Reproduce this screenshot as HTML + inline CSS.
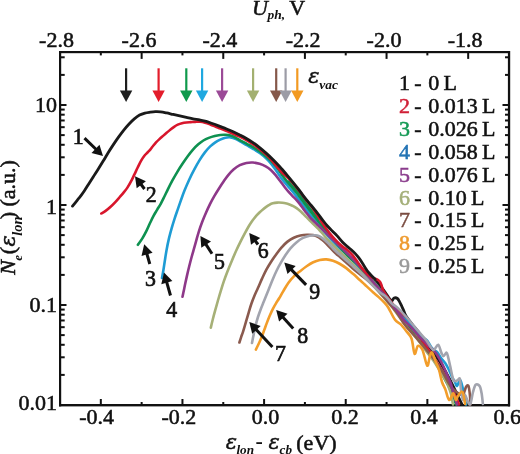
<!DOCTYPE html>
<html><head><meta charset="utf-8"><style>html,body{margin:0;padding:0;background:#fff;}svg{display:block;}</style></head>
<body><svg width="520" height="454" viewBox="0 0 520 454">
<rect width="520" height="454" fill="#fff"/>
<g fill="#111">
<rect x="59" y="51" width="451" height="2.2"/>
<rect x="59" y="404" width="451" height="2.4"/>
<rect x="59" y="51" width="2.2" height="355.4"/>
<rect x="507.9" y="51" width="2.3" height="355.4"/>
<rect x="99.82" y="399" width="2" height="5"/>
<rect x="99.82" y="53" width="2" height="2.4"/>
<rect x="140.64" y="402" width="2" height="2"/>
<rect x="140.64" y="53" width="2" height="5.9"/>
<rect x="181.45" y="399" width="2" height="5"/>
<rect x="181.45" y="53" width="2" height="2.4"/>
<rect x="222.27" y="402" width="2" height="2"/>
<rect x="222.27" y="53" width="2" height="5.9"/>
<rect x="263.09" y="399" width="2" height="5"/>
<rect x="263.09" y="53" width="2" height="2.4"/>
<rect x="303.91" y="402" width="2" height="2"/>
<rect x="303.91" y="53" width="2" height="5.9"/>
<rect x="344.73" y="399" width="2" height="5"/>
<rect x="344.73" y="53" width="2" height="2.4"/>
<rect x="385.55" y="402" width="2" height="2"/>
<rect x="385.55" y="53" width="2" height="5.9"/>
<rect x="426.36" y="399" width="2" height="5"/>
<rect x="426.36" y="53" width="2" height="2.4"/>
<rect x="467.18" y="402" width="2" height="2"/>
<rect x="467.18" y="53" width="2" height="5.9"/>
<rect x="61" y="373.90" width="3.7" height="2"/>
<rect x="505" y="373.90" width="3" height="2"/>
<rect x="61" y="356.29" width="3.7" height="2"/>
<rect x="505" y="356.29" width="3" height="2"/>
<rect x="61" y="343.79" width="3.7" height="2"/>
<rect x="505" y="343.79" width="3" height="2"/>
<rect x="61" y="334.10" width="3.7" height="2"/>
<rect x="505" y="334.10" width="3" height="2"/>
<rect x="61" y="326.18" width="3.7" height="2"/>
<rect x="505" y="326.18" width="3" height="2"/>
<rect x="61" y="319.49" width="3.7" height="2"/>
<rect x="505" y="319.49" width="3" height="2"/>
<rect x="61" y="313.69" width="3.7" height="2"/>
<rect x="505" y="313.69" width="3" height="2"/>
<rect x="61" y="308.58" width="3.7" height="2"/>
<rect x="505" y="308.58" width="3" height="2"/>
<rect x="61" y="304.00" width="5.5" height="2"/>
<rect x="502.5" y="304.00" width="5.5" height="2"/>
<rect x="61" y="273.90" width="3.7" height="2"/>
<rect x="505" y="273.90" width="3" height="2"/>
<rect x="61" y="256.29" width="3.7" height="2"/>
<rect x="505" y="256.29" width="3" height="2"/>
<rect x="61" y="243.79" width="3.7" height="2"/>
<rect x="505" y="243.79" width="3" height="2"/>
<rect x="61" y="234.10" width="3.7" height="2"/>
<rect x="505" y="234.10" width="3" height="2"/>
<rect x="61" y="226.18" width="3.7" height="2"/>
<rect x="505" y="226.18" width="3" height="2"/>
<rect x="61" y="219.49" width="3.7" height="2"/>
<rect x="505" y="219.49" width="3" height="2"/>
<rect x="61" y="213.69" width="3.7" height="2"/>
<rect x="505" y="213.69" width="3" height="2"/>
<rect x="61" y="208.58" width="3.7" height="2"/>
<rect x="505" y="208.58" width="3" height="2"/>
<rect x="61" y="204.00" width="5.5" height="2"/>
<rect x="502.5" y="204.00" width="5.5" height="2"/>
<rect x="61" y="173.90" width="3.7" height="2"/>
<rect x="505" y="173.90" width="3" height="2"/>
<rect x="61" y="156.29" width="3.7" height="2"/>
<rect x="505" y="156.29" width="3" height="2"/>
<rect x="61" y="143.79" width="3.7" height="2"/>
<rect x="505" y="143.79" width="3" height="2"/>
<rect x="61" y="134.10" width="3.7" height="2"/>
<rect x="505" y="134.10" width="3" height="2"/>
<rect x="61" y="126.18" width="3.7" height="2"/>
<rect x="505" y="126.18" width="3" height="2"/>
<rect x="61" y="119.49" width="3.7" height="2"/>
<rect x="505" y="119.49" width="3" height="2"/>
<rect x="61" y="113.69" width="3.7" height="2"/>
<rect x="505" y="113.69" width="3" height="2"/>
<rect x="61" y="108.58" width="3.7" height="2"/>
<rect x="505" y="108.58" width="3" height="2"/>
<rect x="61" y="104.00" width="5.5" height="2"/>
<rect x="502.5" y="104.00" width="5.5" height="2"/>
<rect x="61" y="73.90" width="3.7" height="2"/>
<rect x="505" y="73.90" width="3" height="2"/>
<rect x="61" y="56.29" width="3.7" height="2"/>
<rect x="505" y="56.29" width="3" height="2"/>
</g>
<g font-family="Liberation Serif, serif" stroke-width="0.55" stroke="#111" font-size="22" fill="#111">
<text x="56.5" y="47.3" text-anchor="middle">-2.8</text>
<text x="139.0" y="47.3" text-anchor="middle">-2.6</text>
<text x="219.9" y="47.3" text-anchor="middle">-2.4</text>
<text x="303.2" y="47.3" text-anchor="middle">-2.2</text>
<text x="384.0" y="47.3" text-anchor="middle">-2.0</text>
<text x="465.2" y="47.3" text-anchor="middle">-1.8</text>
<text x="96.6" y="424.3" text-anchor="middle">-0.4</text>
<text x="178.8" y="424.3" text-anchor="middle">-0.2</text>
<text x="265.6" y="424.3" text-anchor="middle">0.0</text>
<text x="345.0" y="424.3" text-anchor="middle">0.2</text>
<text x="424.1" y="424.3" text-anchor="middle">0.4</text>
<text x="507.3" y="424.3" text-anchor="middle">0.6</text>
<text x="57" y="111.5" text-anchor="end">10</text>
<text x="57" y="214.2" text-anchor="end">1</text>
<text x="57" y="311.8" text-anchor="end">0.1</text>
<text x="57" y="410.4" text-anchor="end">0.01</text>
</g>
<text font-family="Liberation Serif, serif" stroke-width="0.55" stroke="#111" font-size="22" fill="#111" x="252" y="14.6" font-style="italic">U</text>
<text font-family="Liberation Serif, serif" font-style="italic" font-weight="bold" font-size="13.5" fill="#111" x="267.6" y="19.4">ph,</text>
<text font-family="Liberation Serif, serif" stroke-width="0.55" stroke="#111" font-size="22" fill="#111" x="289.3" y="14.6">V</text>
<text font-family="DejaVu Serif, serif" font-style="italic" font-size="21" fill="#111" stroke="#111" stroke-width="0.45" x="225.8" y="449.3">ε</text>
<text font-family="Liberation Serif, serif" font-style="italic" font-weight="bold" font-size="13.2" fill="#111" x="236.4" y="454.2">lon</text>
<text font-family="Liberation Serif, serif" font-weight="bold" font-size="22" fill="#111" x="255.6" y="447.9">-</text>
<text font-family="DejaVu Serif, serif" font-style="italic" font-size="21" fill="#111" stroke="#111" stroke-width="0.45" x="268.6" y="449.3">ε</text>
<text font-family="Liberation Serif, serif" font-style="italic" font-weight="bold" font-size="13.2" fill="#111" x="279.6" y="454.2">cb</text>
<text font-family="Liberation Serif, serif" stroke-width="0.55" stroke="#111" font-size="22" fill="#111" x="296.3" y="449.5">(eV)</text>
<g transform="translate(15.2,274.8) rotate(-90)">
<text font-family="Liberation Serif, serif" stroke-width="0.55" stroke="#111" font-size="22" fill="#111" x="0" y="0" font-style="italic">N</text>
<text font-family="Liberation Serif, serif" font-style="italic" font-weight="bold" font-size="13" fill="#111" x="14" y="6.6">e</text>
<text font-family="Liberation Serif, serif" stroke-width="0.55" stroke="#111" font-size="22" fill="#111" x="20.5" y="0">(</text>
<text font-family="DejaVu Serif, serif" font-style="italic" font-size="21" fill="#111" stroke="#111" stroke-width="0.45" x="28.3" y="0">ε</text>
<text font-family="Liberation Serif, serif" font-style="italic" font-weight="bold" font-size="14.5" fill="#111" x="39" y="6.8">lon</text>
<text font-family="Liberation Serif, serif" stroke-width="0.55" stroke="#111" font-size="22" fill="#111" x="55.5" y="0">) (a.u.)</text>
</g>
<text font-family="Liberation Serif, serif" stroke-width="0.55" stroke="#111" font-size="22" fill="#111" x="399" y="90.0" word-spacing="-1.2"><tspan fill="#111" stroke="#111">1</tspan> -<tspan dx="2.2"> 0 L</tspan></text>
<text font-family="Liberation Serif, serif" stroke-width="0.55" stroke="#111" font-size="22" fill="#111" x="399" y="112.9" word-spacing="-1.2"><tspan fill="#d01f36" stroke="#d01f36">2</tspan> -<tspan dx="2.2"> 0.013 L</tspan></text>
<text font-family="Liberation Serif, serif" stroke-width="0.55" stroke="#111" font-size="22" fill="#111" x="399" y="135.8" word-spacing="-1.2"><tspan fill="#159a55" stroke="#159a55">3</tspan> -<tspan dx="2.2"> 0.026 L</tspan></text>
<text font-family="Liberation Serif, serif" stroke-width="0.55" stroke="#111" font-size="22" fill="#111" x="399" y="158.7" word-spacing="-1.2"><tspan fill="#2474b5" stroke="#2474b5">4</tspan> -<tspan dx="2.2"> 0.058 L</tspan></text>
<text font-family="Liberation Serif, serif" stroke-width="0.55" stroke="#111" font-size="22" fill="#111" x="399" y="181.6" word-spacing="-1.2"><tspan fill="#8a3c8c" stroke="#8a3c8c">5</tspan> -<tspan dx="2.2"> 0.076 L</tspan></text>
<text font-family="Liberation Serif, serif" stroke-width="0.55" stroke="#111" font-size="22" fill="#111" x="399" y="204.5" word-spacing="-1.2"><tspan fill="#a5b07a" stroke="#a5b07a">6</tspan> -<tspan dx="2.2"> 0.10 L</tspan></text>
<text font-family="Liberation Serif, serif" stroke-width="0.55" stroke="#111" font-size="22" fill="#111" x="399" y="227.4" word-spacing="-1.2"><tspan fill="#7a4c40" stroke="#7a4c40">7</tspan> -<tspan dx="2.2"> 0.15 L</tspan></text>
<text font-family="Liberation Serif, serif" stroke-width="0.55" stroke="#111" font-size="22" fill="#111" x="399" y="250.3" word-spacing="-1.2"><tspan fill="#ee9a2e" stroke="#ee9a2e">8</tspan> -<tspan dx="2.2"> 0.25 L</tspan></text>
<text font-family="Liberation Serif, serif" stroke-width="0.55" stroke="#111" font-size="22" fill="#111" x="399" y="273.2" word-spacing="-1.2"><tspan fill="#999999" stroke="#999999">9</tspan> -<tspan dx="2.2"> 0.25 L</tspan></text>
<g fill="#1e1e1e"><rect x="125.0" y="68.3" width="2.2" height="23"/><path d="M119.9 90.5 L132.3 90.5 L126.1 102 Z"/></g>
<g fill="#e31d2b"><rect x="157.5" y="68.3" width="2.2" height="23"/><path d="M152.4 90.5 L164.8 90.5 L158.6 102 Z"/></g>
<g fill="#0f9a4c"><rect x="185.2" y="68.3" width="2.2" height="23"/><path d="M180.1 90.5 L192.5 90.5 L186.3 102 Z"/></g>
<g fill="#1fa8e0"><rect x="201.0" y="68.3" width="2.2" height="23"/><path d="M195.9 90.5 L208.3 90.5 L202.1 102 Z"/></g>
<g fill="#9b4a97"><rect x="221.0" y="68.3" width="2.2" height="23"/><path d="M215.9 90.5 L228.3 90.5 L222.1 102 Z"/></g>
<g fill="#a3b070"><rect x="252.0" y="68.3" width="2.2" height="23"/><path d="M246.9 90.5 L259.3 90.5 L253.1 102 Z"/></g>
<g fill="#85584a"><rect x="275.1" y="68.3" width="2.2" height="23"/><path d="M270.0 90.5 L282.4 90.5 L276.2 102 Z"/></g>
<g fill="#9c9ca6"><rect x="284.5" y="68.3" width="2.2" height="23"/><path d="M279.4 90.5 L291.8 90.5 L285.6 102 Z"/></g>
<g fill="#f29a22"><rect x="296.2" y="68.3" width="2.2" height="23"/><path d="M291.1 90.5 L303.5 90.5 L297.3 102 Z"/></g>
<text font-family="DejaVu Serif, serif" font-style="italic" font-size="21" fill="#111" stroke="#111" stroke-width="0.45" x="308.2" y="83.3">ε</text>
<text font-family="Liberation Serif, serif" font-style="italic" font-weight="bold" font-size="13.5" fill="#111" x="319.3" y="88.8">vac</text>
<path d="M375.10 279.30 C375.92 280.30 378.38 283.21 380.02 285.32 C381.67 287.44 383.34 289.64 385.00 292.00 C386.66 294.36 388.83 298.05 390.00 299.50 C391.17 300.95 391.32 300.95 392.00 300.70 C392.68 300.45 393.20 298.37 394.10 298.00 C395.00 297.63 396.48 297.85 397.40 298.50 C398.32 299.15 398.87 300.60 399.60 301.90 C400.33 303.20 401.15 304.95 401.80 306.30 C402.45 307.65 402.80 308.38 403.50 310.00 C404.20 311.62 404.58 313.67 406.00 316.00 C407.42 318.33 409.67 321.00 412.00 324.00 C414.33 327.00 417.33 330.50 420.00 334.00 C422.67 337.50 425.33 341.33 428.00 345.00 C430.67 348.67 433.50 352.33 436.00 356.00 C438.50 359.67 440.83 363.33 443.00 367.00 C445.17 370.67 447.17 374.50 449.00 378.00 C450.83 381.50 452.50 385.00 454.00 388.00 C455.50 391.00 456.67 393.25 458.00 396.00 C459.33 398.75 461.33 403.08 462.00 404.50" fill="none" stroke="#1a1a1a" stroke-width="2.8" stroke-linejoin="round" stroke-linecap="round"/>
<path d="M382.60 289.20 C383.17 290.17 384.43 292.70 386.00 295.00 C387.57 297.30 389.83 300.33 392.00 303.00 C394.17 305.67 396.67 308.17 399.00 311.00 C401.33 313.83 403.50 316.83 406.00 320.00 C408.50 323.17 411.33 326.50 414.00 330.00 C416.67 333.50 419.33 337.33 422.00 341.00 C424.67 344.67 427.33 348.17 430.00 352.00 C432.67 355.83 435.50 360.00 438.00 364.00 C440.50 368.00 442.83 372.17 445.00 376.00 C447.17 379.83 449.17 383.50 451.00 387.00 C452.83 390.50 454.67 394.08 456.00 397.00 C457.33 399.92 458.50 403.25 459.00 404.50" fill="none" stroke="#d8162c" stroke-width="2.6" stroke-linejoin="round" stroke-linecap="round"/>
<path d="M162.00 278.00 C162.24 276.67 162.96 272.83 163.43 270.00 C163.89 267.17 164.28 264.35 164.80 261.00 C165.33 257.65 165.88 253.67 166.57 249.90 C167.27 246.13 168.13 241.97 168.97 238.38 C169.82 234.78 170.71 231.54 171.62 228.33 C172.54 225.11 173.45 222.16 174.45 219.07 C175.45 215.99 176.54 212.90 177.60 209.83 C178.66 206.75 179.67 203.80 180.80 200.62 C181.93 197.45 183.02 194.25 184.40 190.80 C185.78 187.35 187.42 183.52 189.07 179.95 C190.73 176.38 192.57 172.70 194.33 169.40 C196.08 166.10 197.84 162.99 199.60 160.15 C201.36 157.31 203.13 154.66 204.90 152.38 C206.67 150.09 208.47 148.10 210.20 146.43 C211.93 144.75 213.63 143.49 215.30 142.35 C216.97 141.21 218.53 140.35 220.20 139.57 C221.87 138.80 223.56 138.10 225.30 137.73 C227.04 137.35 228.85 137.15 230.62 137.35 C232.40 137.55 234.17 138.20 235.93 138.95 C237.68 139.70 239.35 140.83 241.15 141.88 C242.95 142.92 244.75 144.05 246.72 145.20 C248.70 146.35 250.84 147.46 253.00 148.78 C255.16 150.09 257.52 151.48 259.70 153.07 C261.88 154.67 264.12 156.52 266.08 158.35 C268.03 160.18 269.81 162.10 271.45 164.07 C273.09 166.05 274.44 168.06 275.94 170.20 C277.45 172.35 278.84 174.69 280.48 176.93 C282.12 179.18 284.04 181.57 285.79 183.69 C287.54 185.80 289.44 187.84 290.97 189.63 C292.50 191.43 293.67 192.81 294.97 194.47 C296.26 196.12 297.36 197.68 298.75 199.57 C300.15 201.46 301.86 203.80 303.36 205.81 C304.87 207.81 306.44 209.82 307.80 211.59 C309.15 213.37 309.94 214.48 311.48 216.43 C313.03 218.38 314.71 220.50 317.08 223.31 C319.45 226.12 322.90 230.13 325.68 233.29 C328.47 236.45 331.36 239.67 333.80 242.25 C336.24 244.83 338.18 246.67 340.32 248.75 C342.47 250.83 344.63 252.79 346.68 254.75 C348.72 256.71 350.68 258.56 352.60 260.50 C354.52 262.44 356.28 264.29 358.18 266.38 C360.07 268.46 362.03 270.73 364.00 273.00 C365.97 275.27 368.00 277.67 370.00 280.00 C372.00 282.33 373.83 284.50 376.00 287.00 C378.17 289.50 380.33 292.00 383.00 295.00 C385.67 298.00 389.17 301.67 392.00 305.00 C394.83 308.33 397.33 312.17 400.00 315.00 C402.67 317.83 405.33 319.33 408.00 322.00 C410.67 324.67 413.83 328.50 416.00 331.00 C418.17 333.50 419.17 335.45 421.00 337.00 C422.83 338.55 425.17 338.43 427.00 340.30 C428.83 342.17 430.33 346.25 432.00 348.20 C433.67 350.15 435.50 350.37 437.00 352.00 C438.50 353.63 439.62 356.13 441.00 358.00 C442.38 359.87 443.97 361.20 445.30 363.20 C446.63 365.20 447.88 367.70 449.00 370.00 C450.12 372.30 451.00 375.00 452.00 377.00 C453.00 379.00 454.17 380.50 455.00 382.00 C455.83 383.50 456.17 386.33 457.00 386.00 C457.83 385.67 459.17 380.17 460.00 380.00 C460.83 379.83 461.33 382.67 462.00 385.00 C462.67 387.33 463.33 390.75 464.00 394.00 C464.67 397.25 465.67 402.75 466.00 404.50" fill="none" stroke="#1e9cd4" stroke-width="2.6" stroke-linejoin="round" stroke-linecap="round"/>
<path d="M137.90 244.80 C138.64 243.73 140.95 240.68 142.35 238.40 C143.75 236.12 145.08 233.62 146.32 231.15 C147.57 228.67 148.64 226.03 149.80 223.55 C150.96 221.07 152.06 218.56 153.28 216.27 C154.49 213.99 155.81 211.95 157.07 209.83 C158.34 207.70 159.65 205.73 160.85 203.55 C162.05 201.38 163.13 199.13 164.30 196.78 C165.47 194.42 166.54 192.04 167.85 189.40 C169.16 186.76 170.59 183.82 172.15 180.93 C173.71 178.03 175.48 174.90 177.20 172.05 C178.92 169.20 180.72 166.44 182.48 163.80 C184.23 161.16 185.97 158.57 187.72 156.20 C189.48 153.83 191.24 151.56 193.00 149.57 C194.76 147.59 196.57 145.81 198.30 144.30 C200.03 142.79 201.63 141.57 203.38 140.50 C205.12 139.43 206.88 138.61 208.78 137.85 C210.67 137.09 212.85 136.42 214.75 135.95 C216.65 135.47 218.44 135.19 220.20 135.00 C221.96 134.81 223.57 134.71 225.30 134.80 C227.03 134.89 228.84 135.05 230.60 135.55 C232.36 136.05 234.12 136.93 235.88 137.80 C237.63 138.68 239.32 139.80 241.12 140.80 C242.93 141.80 244.75 142.73 246.72 143.78 C248.70 144.82 250.85 145.84 253.00 147.10 C255.15 148.36 257.42 149.74 259.65 151.35 C261.88 152.96 264.15 154.79 266.40 156.75 C268.65 158.71 271.12 160.98 273.15 163.12 C275.18 165.27 277.01 167.49 278.60 169.60 C280.19 171.71 281.19 173.70 282.68 175.80 C284.16 177.90 285.85 180.12 287.52 182.18 C289.20 184.23 291.18 186.34 292.73 188.15 C294.27 189.96 295.46 191.38 296.77 193.05 C298.09 194.73 299.20 196.30 300.60 198.20 C302.00 200.10 303.70 202.42 305.20 204.42 C306.70 206.42 308.27 208.43 309.62 210.20 C310.98 211.97 311.90 213.23 313.30 215.02 C314.70 216.82 316.07 218.57 318.02 220.97 C319.97 223.38 322.50 226.42 325.00 229.43 C327.50 232.43 330.37 235.87 333.00 239.00 C335.63 242.13 338.36 245.46 340.77 248.22 C343.19 250.99 345.49 253.58 347.48 255.57 C349.46 257.57 351.09 258.78 352.70 260.20 C354.31 261.62 355.67 262.65 357.12 264.07 C358.58 265.50 359.98 267.09 361.43 268.73 C362.87 270.36 364.36 272.22 365.80 273.88 C367.24 275.53 368.68 277.20 370.07 278.68 C371.47 280.15 372.83 281.34 374.17 282.75 C375.52 284.16 376.65 285.36 378.12 287.15 C379.60 288.94 381.05 291.02 383.02 293.50 C385.00 295.98 386.90 297.92 390.00 302.00 C393.10 306.08 398.38 313.67 401.60 318.00 C404.82 322.33 406.90 324.83 409.30 328.00 C411.70 331.17 413.72 334.00 416.00 337.00 C418.28 340.00 420.67 343.00 423.00 346.00 C425.33 349.00 427.83 352.17 430.00 355.00 C432.17 357.83 434.00 359.83 436.00 363.00 C438.00 366.17 440.00 370.33 442.00 374.00 C444.00 377.67 446.17 381.50 448.00 385.00 C449.83 388.50 451.67 391.75 453.00 395.00 C454.33 398.25 455.50 402.92 456.00 404.50" fill="none" stroke="#0e9150" stroke-width="2.6" stroke-linejoin="round" stroke-linecap="round"/>
<path d="M288.60 181.60 C289.44 182.56 292.12 185.59 293.64 187.38 C295.16 189.16 296.40 190.63 297.72 192.31 C299.04 193.99 300.16 195.58 301.56 197.48 C302.97 199.38 304.66 201.70 306.16 203.70 C307.66 205.70 309.23 207.71 310.58 209.47 C311.93 211.24 313.02 212.71 314.25 214.29 C315.47 215.87 317.31 218.16 317.92 218.93" fill="none" stroke="#0e9150" stroke-width="2.6" stroke-linejoin="round" stroke-linecap="round"/>
<path d="M210.80 327.70 C211.12 326.33 212.02 322.37 212.75 319.48 C213.48 316.58 214.33 313.43 215.18 310.35 C216.02 307.27 216.91 304.14 217.82 300.98 C218.74 297.81 219.65 294.63 220.65 291.38 C221.65 288.12 222.65 284.81 223.80 281.45 C224.95 278.09 226.20 274.69 227.55 271.23 C228.90 267.76 230.44 264.05 231.88 260.65 C233.31 257.25 234.73 253.95 236.15 250.82 C237.57 247.70 238.96 244.81 240.40 241.90 C241.84 238.99 243.43 235.94 244.80 233.38 C246.17 230.81 247.51 228.41 248.62 226.52 C249.74 224.64 250.57 223.38 251.47 222.05 C252.38 220.72 253.18 219.66 254.07 218.53 C254.97 217.39 255.88 216.27 256.83 215.23 C257.77 214.18 258.71 213.22 259.73 212.25 C260.74 211.28 261.82 210.32 262.90 209.43 C263.98 208.53 265.12 207.65 266.20 206.88 C267.27 206.10 268.26 205.39 269.35 204.80 C270.44 204.21 271.42 203.71 272.73 203.35 C274.03 202.99 275.59 202.72 277.18 202.62 C278.76 202.53 280.68 202.59 282.25 202.75 C283.82 202.91 285.32 203.25 286.62 203.58 C287.93 203.90 288.96 204.26 290.07 204.67 C291.19 205.09 292.21 205.51 293.30 206.07 C294.39 206.64 295.50 207.30 296.60 208.08 C297.70 208.85 298.80 209.78 299.90 210.75 C301.00 211.72 302.10 212.82 303.20 213.90 C304.30 214.97 305.40 216.10 306.50 217.20 C307.60 218.30 308.70 219.40 309.80 220.50 C310.90 221.60 312.03 222.73 313.10 223.80 C314.18 224.87 315.24 225.93 316.25 226.93 C317.26 227.93 318.19 228.80 319.15 229.80 C320.11 230.80 321.05 231.80 322.02 232.92 C323.00 234.05 323.95 235.32 325.02 236.57 C326.10 237.82 327.17 239.06 328.48 240.43 C329.78 241.79 331.22 243.10 332.88 244.75 C334.53 246.40 336.38 248.28 338.43 250.32 C340.48 252.37 342.81 254.72 345.18 257.00 C347.54 259.28 350.10 261.60 352.60 264.00 C355.10 266.40 357.61 268.79 360.18 271.38 C362.74 273.96 365.40 276.71 368.00 279.50 C370.60 282.29 373.17 285.17 375.75 288.12 C378.33 291.08 380.79 294.10 383.50 297.25 C386.21 300.40 388.98 303.21 392.00 307.00 C395.02 310.79 398.72 316.17 401.60 320.00 C404.48 323.83 406.57 326.67 409.30 330.00 C412.03 333.33 415.22 336.50 418.00 340.00 C420.78 343.50 423.50 347.67 426.00 351.00 C428.50 354.33 430.67 356.67 433.00 360.00 C435.33 363.33 437.83 367.50 440.00 371.00 C442.17 374.50 444.50 378.17 446.00 381.00 C447.50 383.83 448.17 385.83 449.00 388.00 C449.83 390.17 450.33 391.25 451.00 394.00 C451.67 396.75 452.67 402.75 453.00 404.50" fill="none" stroke="#a6b077" stroke-width="2.6" stroke-linejoin="round" stroke-linecap="round"/>
<path d="M239.40 342.50 C239.69 341.60 240.55 338.91 241.15 337.12 C241.75 335.34 242.40 333.64 243.00 331.80 C243.60 329.96 244.14 328.10 244.72 326.10 C245.31 324.10 245.85 322.10 246.53 319.80 C247.20 317.50 247.94 314.94 248.75 312.27 C249.56 309.61 250.44 306.51 251.38 303.80 C252.31 301.09 253.26 298.63 254.35 296.00 C255.44 293.37 256.64 290.92 257.92 288.02 C259.21 285.13 260.62 281.75 262.05 278.65 C263.48 275.55 264.96 272.27 266.50 269.40 C268.04 266.53 269.67 263.94 271.27 261.45 C272.88 258.96 274.47 256.75 276.12 254.48 C277.78 252.20 279.35 249.92 281.20 247.82 C283.05 245.72 285.10 243.55 287.20 241.88 C289.30 240.20 291.60 238.82 293.80 237.77 C296.00 236.72 298.20 236.08 300.40 235.58 C302.60 235.07 304.89 234.80 307.00 234.73 C309.11 234.65 311.23 234.75 313.05 235.10 C314.87 235.45 316.39 236.01 317.90 236.80 C319.41 237.59 320.68 238.67 322.10 239.85 C323.53 241.03 324.97 242.44 326.45 243.90 C327.93 245.36 329.48 247.04 331.00 248.60 C332.52 250.16 334.06 251.81 335.60 253.25 C337.14 254.69 338.57 255.80 340.25 257.25 C341.93 258.70 343.62 260.13 345.68 261.95 C347.73 263.77 350.12 266.07 352.55 268.15 C354.98 270.22 357.68 272.36 360.23 274.40 C362.77 276.44 365.34 278.26 367.80 280.40 C370.26 282.54 372.68 284.86 375.00 287.25 C377.32 289.64 379.58 292.29 381.75 294.75 C383.92 297.21 385.46 298.96 388.00 302.00 C390.54 305.04 394.17 309.17 397.00 313.00 C399.83 316.83 402.03 321.17 405.00 325.00 C407.97 328.83 411.63 332.33 414.80 336.00 C417.97 339.67 420.97 343.33 424.00 347.00 C427.03 350.67 429.90 353.83 433.00 358.00 C436.10 362.17 440.10 368.00 442.60 372.00 C445.10 376.00 446.43 379.33 448.00 382.00 C449.57 384.67 450.33 386.17 452.00 388.00 C453.67 389.83 456.17 391.83 458.00 393.00 C459.83 394.17 461.67 396.00 463.00 395.00 C464.33 394.00 465.08 388.50 466.00 387.00 C466.92 385.50 467.83 384.50 468.50 386.00 C469.17 387.50 469.67 392.92 470.00 396.00 C470.33 399.08 470.42 403.08 470.50 404.50" fill="none" stroke="#8a5a4e" stroke-width="2.6" stroke-linejoin="round" stroke-linecap="round"/>
<path d="M182.50 296.80 C182.73 295.70 183.41 292.45 183.88 290.20 C184.34 287.95 184.77 285.75 185.30 283.28 C185.83 280.80 186.42 278.10 187.05 275.35 C187.68 272.60 188.40 269.56 189.10 266.75 C189.80 263.94 190.49 261.22 191.22 258.50 C191.96 255.78 192.71 253.25 193.50 250.43 C194.29 247.60 195.10 244.62 195.97 241.53 C196.85 238.43 197.73 235.03 198.75 231.82 C199.77 228.62 200.89 225.41 202.07 222.28 C203.26 219.14 204.56 216.05 205.88 213.02 C207.19 210.00 208.55 206.98 209.97 204.12 C211.40 201.27 212.90 198.53 214.43 195.88 C215.95 193.22 217.60 190.61 219.15 188.18 C220.70 185.74 222.23 183.43 223.75 181.25 C225.27 179.07 226.62 177.06 228.25 175.10 C229.88 173.14 231.60 171.15 233.52 169.50 C235.45 167.85 237.65 166.27 239.80 165.18 C241.95 164.08 244.20 163.37 246.40 162.93 C248.60 162.48 250.80 162.38 253.00 162.52 C255.20 162.67 257.48 163.13 259.60 163.77 C261.72 164.42 263.83 165.35 265.70 166.38 C267.57 167.40 269.18 168.52 270.80 169.93 C272.42 171.33 273.87 173.01 275.40 174.82 C276.93 176.64 278.46 178.77 280.00 180.80 C281.54 182.83 283.11 185.05 284.62 187.00 C286.14 188.95 287.68 190.88 289.08 192.47 C290.48 194.07 291.78 195.28 293.02 196.55 C294.27 197.83 295.40 198.86 296.55 200.12 C297.70 201.39 298.79 202.74 299.90 204.15 C301.01 205.56 302.10 207.12 303.20 208.60 C304.30 210.08 305.40 211.65 306.50 213.05 C307.60 214.45 308.70 215.78 309.80 217.02 C310.90 218.27 311.99 219.37 313.10 220.50 C314.21 221.63 315.30 222.67 316.48 223.80 C317.65 224.93 318.89 226.08 320.18 227.30 C321.46 228.52 322.85 229.84 324.18 231.12 C325.50 232.41 326.82 233.73 328.12 235.03 C329.43 236.32 330.73 237.66 331.98 238.88 C333.23 240.09 334.39 241.17 335.62 242.32 C336.86 243.48 337.97 244.44 339.40 245.80 C340.83 247.16 342.46 248.78 344.23 250.50 C345.99 252.22 348.04 254.17 350.00 256.12 C351.96 258.08 354.00 260.10 356.00 262.25 C358.00 264.40 359.96 266.67 362.00 269.00 C364.04 271.33 366.08 273.75 368.25 276.25 C370.42 278.75 372.75 281.42 375.00 284.00 C377.25 286.58 379.58 289.25 381.75 291.75 C383.92 294.25 385.79 296.29 388.00 299.00 C390.21 301.71 392.37 304.53 395.00 308.00 C397.63 311.47 401.05 316.55 403.80 319.80 C406.55 323.05 408.93 324.75 411.50 327.50 C414.07 330.25 416.62 333.55 419.20 336.30 C421.78 339.05 424.27 341.28 427.00 344.00 C429.73 346.72 433.28 349.70 435.60 352.60 C437.92 355.50 439.43 358.75 440.90 361.40 C442.37 364.05 443.22 365.90 444.40 368.50 C445.58 371.10 446.90 374.42 448.00 377.00 C449.10 379.58 450.17 381.50 451.00 384.00 C451.83 386.50 452.33 389.67 453.00 392.00 C453.67 394.33 454.33 395.92 455.00 398.00 C455.67 400.08 456.67 403.42 457.00 404.50" fill="none" stroke="#8e3889" stroke-width="2.6" stroke-linejoin="round" stroke-linecap="round"/>
<path d="M252.00 343.00 C252.28 341.57 253.11 337.25 253.70 334.40 C254.29 331.55 254.85 328.73 255.55 325.88 C256.25 323.02 257.02 320.07 257.90 317.25 C258.78 314.43 259.89 311.48 260.82 308.98 C261.76 306.48 262.68 304.28 263.50 302.25 C264.32 300.22 264.86 298.93 265.73 296.80 C266.59 294.68 267.55 292.31 268.68 289.50 C269.80 286.69 271.16 283.08 272.48 279.95 C273.79 276.82 275.15 273.64 276.57 270.73 C278.00 267.81 279.53 265.10 281.02 262.48 C282.52 259.85 283.98 257.35 285.55 255.00 C287.12 252.65 288.62 250.45 290.42 248.35 C292.23 246.25 294.30 244.13 296.40 242.40 C298.50 240.67 300.80 239.06 303.00 237.95 C305.20 236.84 307.56 236.17 309.60 235.73 C311.64 235.28 313.63 235.19 315.25 235.27 C316.87 235.36 318.00 235.66 319.30 236.23 C320.60 236.79 321.73 237.63 323.05 238.65 C324.38 239.68 325.82 240.99 327.25 242.38 C328.68 243.76 330.16 245.42 331.65 246.95 C333.14 248.48 334.67 250.14 336.20 251.57 C337.73 253.01 339.16 254.14 340.82 255.57 C342.49 257.01 344.17 258.39 346.20 260.18 C348.23 261.96 350.70 264.19 353.02 266.27 C355.35 268.36 357.92 270.55 360.18 272.68 C362.43 274.80 364.42 276.80 366.57 279.00 C368.73 281.20 370.83 283.66 373.08 285.90 C375.32 288.14 377.77 290.57 380.02 292.45 C382.28 294.33 384.60 295.34 386.60 297.20 C388.60 299.06 390.20 301.87 392.00 303.60 C393.80 305.33 395.00 305.37 397.40 307.60 C399.80 309.83 403.13 313.32 406.40 317.00 C409.67 320.68 413.77 325.93 417.00 329.70 C420.23 333.47 423.58 336.80 425.80 339.60 C428.02 342.40 428.97 344.77 430.30 346.50 C431.63 348.23 432.48 350.30 433.80 350.00 C435.12 349.70 436.95 344.27 438.20 344.70 C439.45 345.13 440.42 350.70 441.30 352.60 C442.18 354.50 442.62 356.10 443.50 356.10 C444.38 356.10 445.80 352.30 446.60 352.60 C447.40 352.90 447.72 355.70 448.30 357.90 C448.88 360.10 449.22 362.08 450.10 365.80 C450.98 369.52 452.35 377.80 453.60 380.20 C454.85 382.60 456.57 380.43 457.60 380.20 C458.63 379.97 459.23 377.17 459.80 378.80 C460.37 380.43 460.47 386.47 461.00 390.00 C461.53 393.53 462.33 399.17 463.00 400.00 C463.67 400.83 464.17 394.67 465.00 395.00 C465.83 395.33 467.10 400.52 468.00 402.00 C468.90 403.48 469.57 405.57 470.40 403.90 C471.23 402.23 472.12 395.20 473.00 392.00 C473.88 388.80 474.60 385.70 475.70 384.70 C476.80 383.70 478.62 384.57 479.60 386.00 C480.58 387.43 481.05 390.30 481.60 393.30 C482.15 396.30 482.68 402.22 482.90 404.00" fill="none" stroke="#a2a4ae" stroke-width="2.6" stroke-linejoin="round" stroke-linecap="round"/>
<path d="M255.90 349.60 C256.48 348.37 258.37 344.48 259.40 342.20 C260.43 339.92 261.29 337.93 262.10 335.90 C262.91 333.87 263.47 332.18 264.25 330.05 C265.03 327.92 265.87 325.48 266.77 323.10 C267.68 320.73 268.68 318.18 269.70 315.80 C270.72 313.43 271.80 310.98 272.88 308.85 C273.95 306.73 275.07 304.82 276.12 303.05 C277.18 301.28 278.00 300.20 279.17 298.25 C280.35 296.30 281.65 293.88 283.18 291.32 C284.70 288.77 286.52 285.45 288.30 282.95 C290.08 280.45 291.92 278.30 293.88 276.35 C295.83 274.40 297.93 272.90 300.05 271.22 C302.17 269.55 304.41 267.77 306.60 266.27 C308.79 264.78 311.00 263.30 313.20 262.25 C315.40 261.20 317.60 260.43 319.80 259.95 C322.00 259.47 324.20 259.25 326.40 259.38 C328.60 259.50 330.80 260.00 333.00 260.73 C335.20 261.45 337.41 262.51 339.62 263.75 C341.84 264.99 344.04 266.47 346.27 268.15 C348.51 269.83 350.82 271.92 353.02 273.85 C355.22 275.77 357.53 277.94 359.48 279.70 C361.43 281.46 363.16 282.97 364.73 284.42 C366.29 285.87 367.45 287.06 368.88 288.40 C370.30 289.74 371.66 291.03 373.30 292.48 C374.94 293.93 376.93 295.48 378.70 297.10 C380.47 298.72 382.33 300.49 383.90 302.18 C385.47 303.86 386.25 304.26 388.10 307.20 C389.95 310.14 392.93 316.97 395.00 319.80 C397.07 322.63 398.67 322.37 400.50 324.20 C402.33 326.03 404.17 328.42 406.00 330.80 C407.83 333.18 410.07 334.67 411.50 338.50 C412.93 342.33 413.53 352.57 414.60 353.80 C415.67 355.03 416.58 346.53 417.90 345.90 C419.22 345.27 420.95 346.70 422.50 350.00 C424.05 353.30 425.98 364.63 427.20 365.70 C428.42 366.77 429.00 358.58 429.80 356.40 C430.60 354.22 431.03 351.77 432.00 352.60 C432.97 353.43 434.42 358.47 435.60 361.40 C436.78 364.33 438.03 366.77 439.10 370.20 C440.17 373.63 440.97 378.82 442.00 382.00 C443.03 385.18 444.10 386.30 445.30 389.30 C446.50 392.30 447.88 399.33 449.20 400.00 C450.52 400.67 452.08 393.30 453.20 393.30 C454.32 393.30 455.10 399.55 455.90 400.00 C456.70 400.45 456.90 397.33 458.00 396.00 C459.10 394.67 461.32 390.67 462.50 392.00 C463.68 393.33 464.67 402.00 465.10 404.00" fill="none" stroke="#f29d2a" stroke-width="2.6" stroke-linejoin="round" stroke-linecap="round"/>
<path d="M101.30 213.50 C102.02 213.06 104.08 211.98 105.62 210.85 C107.17 209.72 108.95 208.24 110.60 206.72 C112.25 205.21 114.01 203.40 115.55 201.78 C117.09 200.15 118.45 198.57 119.83 197.00 C121.20 195.43 122.49 193.97 123.77 192.38 C125.06 190.78 126.35 189.22 127.55 187.40 C128.75 185.58 129.88 183.57 131.00 181.45 C132.12 179.33 133.18 177.00 134.30 174.67 C135.42 172.35 136.56 169.84 137.70 167.50 C138.84 165.16 140.03 162.61 141.15 160.65 C142.27 158.69 143.34 157.08 144.40 155.72 C145.46 154.37 146.49 153.57 147.50 152.50 C148.51 151.43 149.53 150.42 150.47 149.30 C151.42 148.18 152.27 146.95 153.20 145.80 C154.13 144.65 155.02 143.51 156.05 142.40 C157.08 141.29 158.23 140.21 159.40 139.12 C160.57 138.04 161.85 136.96 163.10 135.88 C164.35 134.79 165.65 133.66 166.90 132.60 C168.15 131.54 169.38 130.46 170.57 129.50 C171.77 128.54 172.89 127.63 174.10 126.83 C175.31 126.02 176.51 125.28 177.82 124.67 C179.14 124.07 180.57 123.57 182.00 123.20 C183.43 122.83 184.93 122.62 186.40 122.45 C187.87 122.28 189.32 122.25 190.80 122.15 C192.28 122.05 193.76 121.91 195.30 121.85 C196.84 121.79 198.41 121.66 200.03 121.80 C201.64 121.94 203.30 122.26 205.00 122.70 C206.70 123.14 208.48 123.80 210.20 124.43 C211.92 125.05 213.58 125.75 215.30 126.45 C217.02 127.15 218.64 127.88 220.53 128.65 C222.41 129.42 224.49 130.23 226.60 131.07 C228.71 131.92 231.00 132.79 233.20 133.72 C235.40 134.66 237.60 135.61 239.80 136.68 C242.00 137.74 244.20 138.86 246.40 140.12 C248.60 141.39 250.79 142.75 253.00 144.25 C255.21 145.75 257.42 147.37 259.65 149.12 C261.88 150.88 264.20 152.73 266.40 154.80 C268.60 156.87 270.84 159.28 272.82 161.55 C274.81 163.82 276.71 166.51 278.33 168.43 C279.94 170.34 281.14 171.68 282.52 173.06 C283.91 174.43 284.98 175.08 286.65 176.68 C288.31 178.28 290.54 180.47 292.51 182.67 C294.49 184.87 296.78 187.68 298.51 189.87 C300.24 192.05 301.52 193.99 302.88 195.79 C304.24 197.59 305.39 199.07 306.66 200.65 C307.93 202.23 309.16 203.51 310.51 205.26 C311.87 207.01 313.30 208.91 314.82 211.17 C316.33 213.43 317.97 216.25 319.60 218.81 C321.23 221.38 322.84 224.04 324.60 226.55 C326.36 229.06 328.38 231.66 330.15 233.85 C331.92 236.04 333.70 238.06 335.23 239.70 C336.75 241.34 337.90 242.45 339.27 243.70 C340.65 244.95 342.03 246.01 343.50 247.17 C344.97 248.34 346.60 249.39 348.10 250.70 C349.60 252.01 351.11 253.39 352.52 255.03 C353.94 256.66 355.23 258.63 356.58 260.52 C357.92 262.42 359.18 264.50 360.60 266.38 C362.02 268.25 363.56 270.15 365.10 271.75 C366.64 273.35 368.31 274.88 369.82 276.00 C371.34 277.12 372.88 277.82 374.20 278.45 C375.52 279.08 376.77 279.15 377.77 279.77 C378.78 280.40 379.59 281.16 380.25 282.17 C380.91 283.19 381.36 284.70 381.75 285.88 C382.14 287.05 382.46 288.65 382.60 289.20" fill="none" stroke="#d8162c" stroke-width="2.6" stroke-linejoin="round" stroke-linecap="round"/>
<path d="M72.50 206.10 C73.25 205.17 75.59 202.28 77.00 200.53 C78.41 198.78 79.69 197.27 80.95 195.60 C82.21 193.93 83.31 192.38 84.58 190.48 C85.84 188.57 87.12 186.43 88.55 184.18 C89.98 181.92 91.55 179.45 93.17 176.93 C94.80 174.40 96.60 171.71 98.30 169.03 C100.00 166.34 101.71 163.51 103.35 160.80 C104.99 158.09 106.51 155.43 108.15 152.78 C109.79 150.12 111.47 147.50 113.20 144.90 C114.93 142.30 116.73 139.62 118.50 137.15 C120.27 134.67 122.04 132.25 123.80 130.05 C125.56 127.85 127.32 125.82 129.07 123.95 C130.83 122.08 132.57 120.30 134.33 118.83 C136.08 117.35 137.84 116.03 139.60 115.08 C141.36 114.12 143.13 113.56 144.90 113.08 C146.67 112.59 148.47 112.41 150.20 112.17 C151.93 111.94 153.58 111.71 155.30 111.65 C157.02 111.59 158.64 111.59 160.53 111.80 C162.41 112.01 164.49 112.48 166.60 112.93 C168.71 113.37 171.00 113.96 173.20 114.45 C175.40 114.94 177.60 115.39 179.80 115.88 C182.00 116.36 184.20 116.88 186.40 117.38 C188.60 117.87 190.80 118.42 193.00 118.85 C195.20 119.28 197.40 119.54 199.60 119.97 C201.80 120.41 203.97 120.82 206.20 121.45 C208.42 122.08 210.67 122.96 212.95 123.78 C215.22 124.59 217.57 125.49 219.85 126.35 C222.12 127.21 224.38 128.02 226.60 128.93 C228.83 129.83 231.00 130.79 233.20 131.80 C235.40 132.81 237.60 133.89 239.80 135.00 C242.00 136.11 244.20 137.20 246.40 138.48 C248.60 139.75 250.79 141.10 253.00 142.62 C255.21 144.15 257.42 145.84 259.65 147.62 C261.88 149.41 264.15 151.33 266.40 153.35 C268.65 155.37 270.92 157.52 273.15 159.75 C275.38 161.98 277.59 164.30 279.80 166.73 C282.01 169.15 284.20 171.73 286.40 174.32 C288.60 176.92 290.93 179.73 293.00 182.28 C295.07 184.83 297.13 187.41 298.83 189.62 C300.53 191.84 301.84 193.75 303.20 195.55 C304.56 197.35 305.70 198.82 306.98 200.40 C308.25 201.98 309.54 203.46 310.82 205.00 C312.11 206.54 313.39 208.05 314.68 209.62 C315.96 211.20 317.20 212.74 318.52 214.48 C319.85 216.21 321.17 218.13 322.65 220.05 C324.13 221.97 325.78 224.12 327.43 225.98 C329.07 227.83 330.92 229.57 332.50 231.18 C334.08 232.78 335.61 234.19 336.92 235.60 C338.24 237.01 339.27 238.34 340.40 239.62 C341.53 240.91 342.54 242.14 343.70 243.30 C344.86 244.46 346.12 245.52 347.38 246.60 C348.62 247.68 349.93 248.64 351.20 249.78 C352.47 250.91 353.75 252.05 355.02 253.40 C356.30 254.75 357.66 256.32 358.88 257.90 C360.09 259.48 361.27 261.26 362.32 262.90 C363.38 264.54 364.20 266.18 365.20 267.73 C366.20 269.27 367.20 270.79 368.30 272.18 C369.40 273.56 370.67 274.84 371.80 276.02 C372.93 277.21 374.55 278.75 375.10 279.30" fill="none" stroke="#1a1a1a" stroke-width="2.8" stroke-linejoin="round" stroke-linecap="round"/>
<path d="M84.5 138.1 L96.5 149.8" stroke="#111" stroke-width="3.0" fill="none"/><path d="M103.0 156.1 L91.5 152.9 L99.5 144.7 Z" fill="#111"/>
<path d="M144.5 189.0 L140.4 183.5" stroke="#111" stroke-width="3.0" fill="none"/><path d="M135.0 176.3 L145.9 181.3 L136.7 188.2 Z" fill="#111"/>
<path d="M149.8 264.0 L146.6 252.9" stroke="#111" stroke-width="3.0" fill="none"/><path d="M144.2 244.2 L152.6 252.7 L141.5 255.9 Z" fill="#111"/>
<path d="M170.5 295.5 L166.4 281.2" stroke="#111" stroke-width="3.0" fill="none"/><path d="M164.0 272.5 L172.4 281.0 L161.3 284.2 Z" fill="#111"/>
<path d="M212.0 253.7 L205.3 243.4" stroke="#111" stroke-width="3.0" fill="none"/><path d="M200.4 235.9 L211.0 241.6 L201.3 247.8 Z" fill="#111"/>
<path d="M258.0 244.5 L254.7 240.1" stroke="#111" stroke-width="3.0" fill="none"/><path d="M249.3 232.9 L260.2 237.9 L251.0 244.8 Z" fill="#111"/>
<path d="M272.4 347.0 L255.4 328.7" stroke="#111" stroke-width="3.0" fill="none"/><path d="M249.3 322.1 L260.7 325.9 L252.2 333.7 Z" fill="#111"/>
<path d="M293.2 328.5 L282.3 316.6" stroke="#111" stroke-width="3.0" fill="none"/><path d="M276.2 310.0 L287.5 313.8 L279.1 321.6 Z" fill="#111"/>
<path d="M306.1 284.9 L290.6 268.9" stroke="#111" stroke-width="3.0" fill="none"/><path d="M284.3 262.5 L295.7 266.0 L287.5 274.0 Z" fill="#111"/>
<text font-family="Liberation Serif, serif" stroke-width="0.7" stroke="#111" font-size="23.5" fill="#111" transform="translate(72.80,143.6) scale(0.93,1)">1</text>
<text font-family="Liberation Serif, serif" stroke-width="0.7" stroke="#111" font-size="23.5" fill="#111" transform="translate(145.80,202.3) scale(0.93,1)">2</text>
<text font-family="Liberation Serif, serif" stroke-width="0.7" stroke="#111" font-size="23.5" fill="#111" transform="translate(145.00,285.6) scale(0.93,1)">3</text>
<text font-family="Liberation Serif, serif" stroke-width="0.7" stroke="#111" font-size="23.5" fill="#111" transform="translate(166.30,317.4) scale(0.93,1)">4</text>
<text font-family="Liberation Serif, serif" stroke-width="0.7" stroke="#111" font-size="23.5" fill="#111" transform="translate(214.10,268.6) scale(0.93,1)">5</text>
<text font-family="Liberation Serif, serif" stroke-width="0.7" stroke="#111" font-size="23.5" fill="#111" transform="translate(257.70,257.6) scale(0.93,1)">6</text>
<text font-family="Liberation Serif, serif" stroke-width="0.7" stroke="#111" font-size="23.5" fill="#111" transform="translate(275.00,360.9) scale(0.93,1)">7</text>
<text font-family="Liberation Serif, serif" stroke-width="0.7" stroke="#111" font-size="23.5" fill="#111" transform="translate(297.20,343.2) scale(0.93,1)">8</text>
<text font-family="Liberation Serif, serif" stroke-width="0.7" stroke="#111" font-size="23.5" fill="#111" transform="translate(309.30,299.2) scale(0.93,1)">9</text>
</svg></body></html>
